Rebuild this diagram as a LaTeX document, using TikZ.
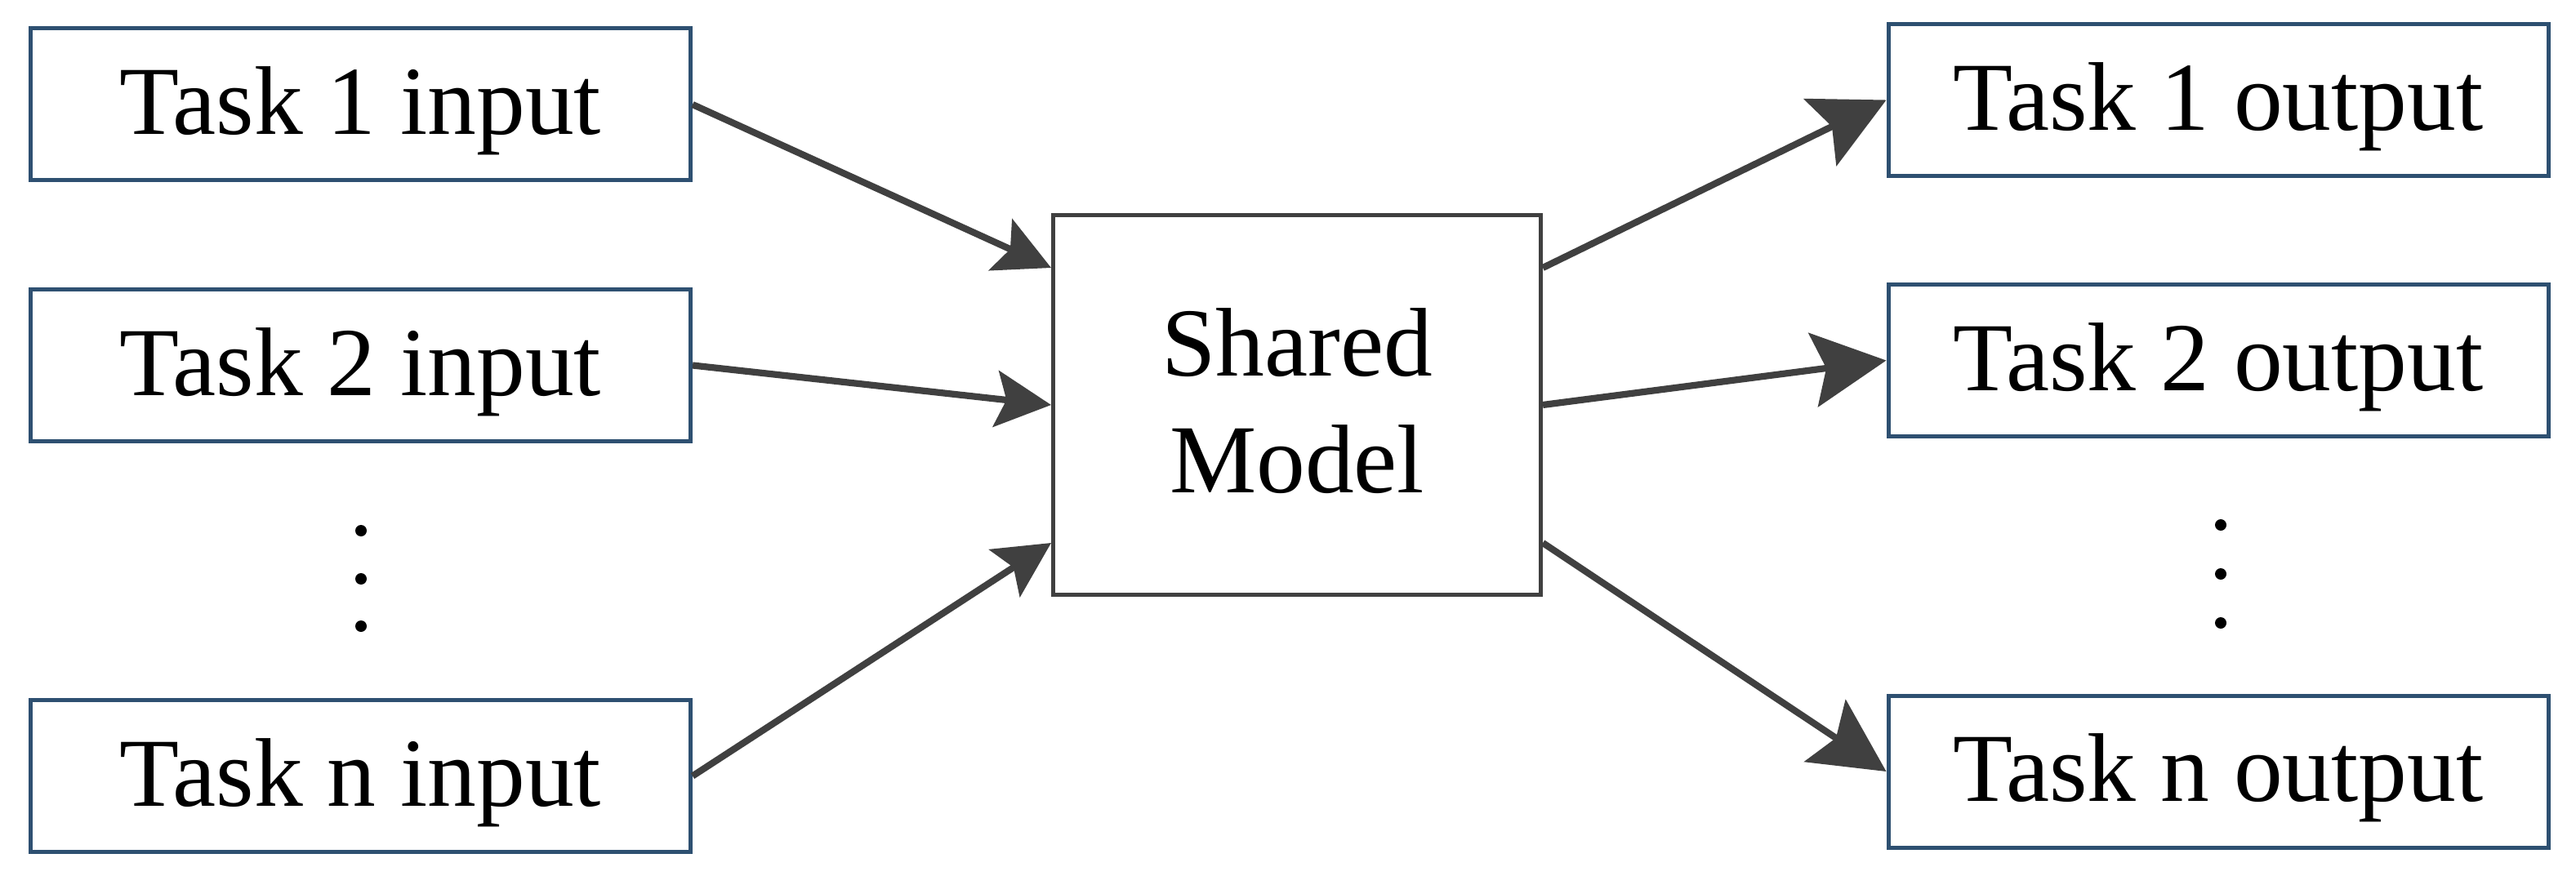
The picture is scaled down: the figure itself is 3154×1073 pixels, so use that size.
\documentclass[tikz,border=0pt]{standalone}
\usepackage{fontspec}
\setmainfont{Liberation Serif}
\usetikzlibrary{arrows.meta}
\definecolor{boxblue}{HTML}{2E5071}
\definecolor{arrowgray}{HTML}{404040}

\def\boxwidth{8.08cm}
\def\boxheight{1.86cm}

\begin{document}
\begin{tikzpicture}[x=0.1mm,y=-0.1mm,->,>={Stealth[length=6.8mm,width=6.9mm,inset=1.3mm]},draw=arrowgray,line width=0.82mm]
    \tikzstyle{task}=[rectangle,draw=boxblue,line width=0.5mm,minimum width=\boxwidth,minimum height=\boxheight,inner sep=0pt,text height=25pt,text depth=4pt,font=\fontsize{34}{40.8}\selectfont]
    \tikzstyle{model}=[rectangle,draw=arrowgray,line width=0.5mm,minimum width=5.97cm,minimum height=4.65cm,align=center,font=\fontsize{34}{40.8}\selectfont]
    \tikzstyle{dot}=[circle,fill=black,draw=none,inner sep=0pt,minimum size=1.4mm]
    \tikzstyle{big tip}=[-{Stealth[length=9mm,width=9.1mm,inset=1.6mm]}]

    \useasboundingbox (0,0) rectangle (3154,1073);

    % Draw the input boxes
    \foreach \name / \y in {1/128,2/447.5,n/950.5}
        \node[task] (I-\name) at (441.5,\y) {Task \name\ input};

    % Draw the shared model
    \node[model] (M) at (1588,496) {};
    \node[align=center,font=\fontsize{34}{40.8}\selectfont] (M-text) at (1588,491) {Shared\\Model};

    % Draw the output boxes
    \foreach \name / \y in {1/122.5,2/441.5,n/945}
        \node[task] (O-\name) at (2716,\y) {Task \name\ output};

    % The dots between task 2 and task n
    \foreach \i / \y in {1/650,2/709,3/767}
        \node[dot] (ldot-\i) at (442,\y) {};
    \foreach \i / \y in {1/643,2/703,3/763}
        \node[dot] (rdot-\i) at (2719,\y) {};

    % Connect every input box with the shared model
    \draw (I-1.east) -- ([yshift=1.68cm]M.west);
    \draw (I-2.east) -- (M.west);
    \draw (I-n.east) -- ([yshift=-1.69cm]M.west);

    % Connect the shared model with every output box
    \draw[big tip] ([yshift=1.68cm]M.east) -- (O-1.west);
    \draw[big tip] (M.east) -- (O-2.west);
    \draw[big tip] ([yshift=-1.69cm]M.east) -- (O-n.west);
\end{tikzpicture}
\end{document}
